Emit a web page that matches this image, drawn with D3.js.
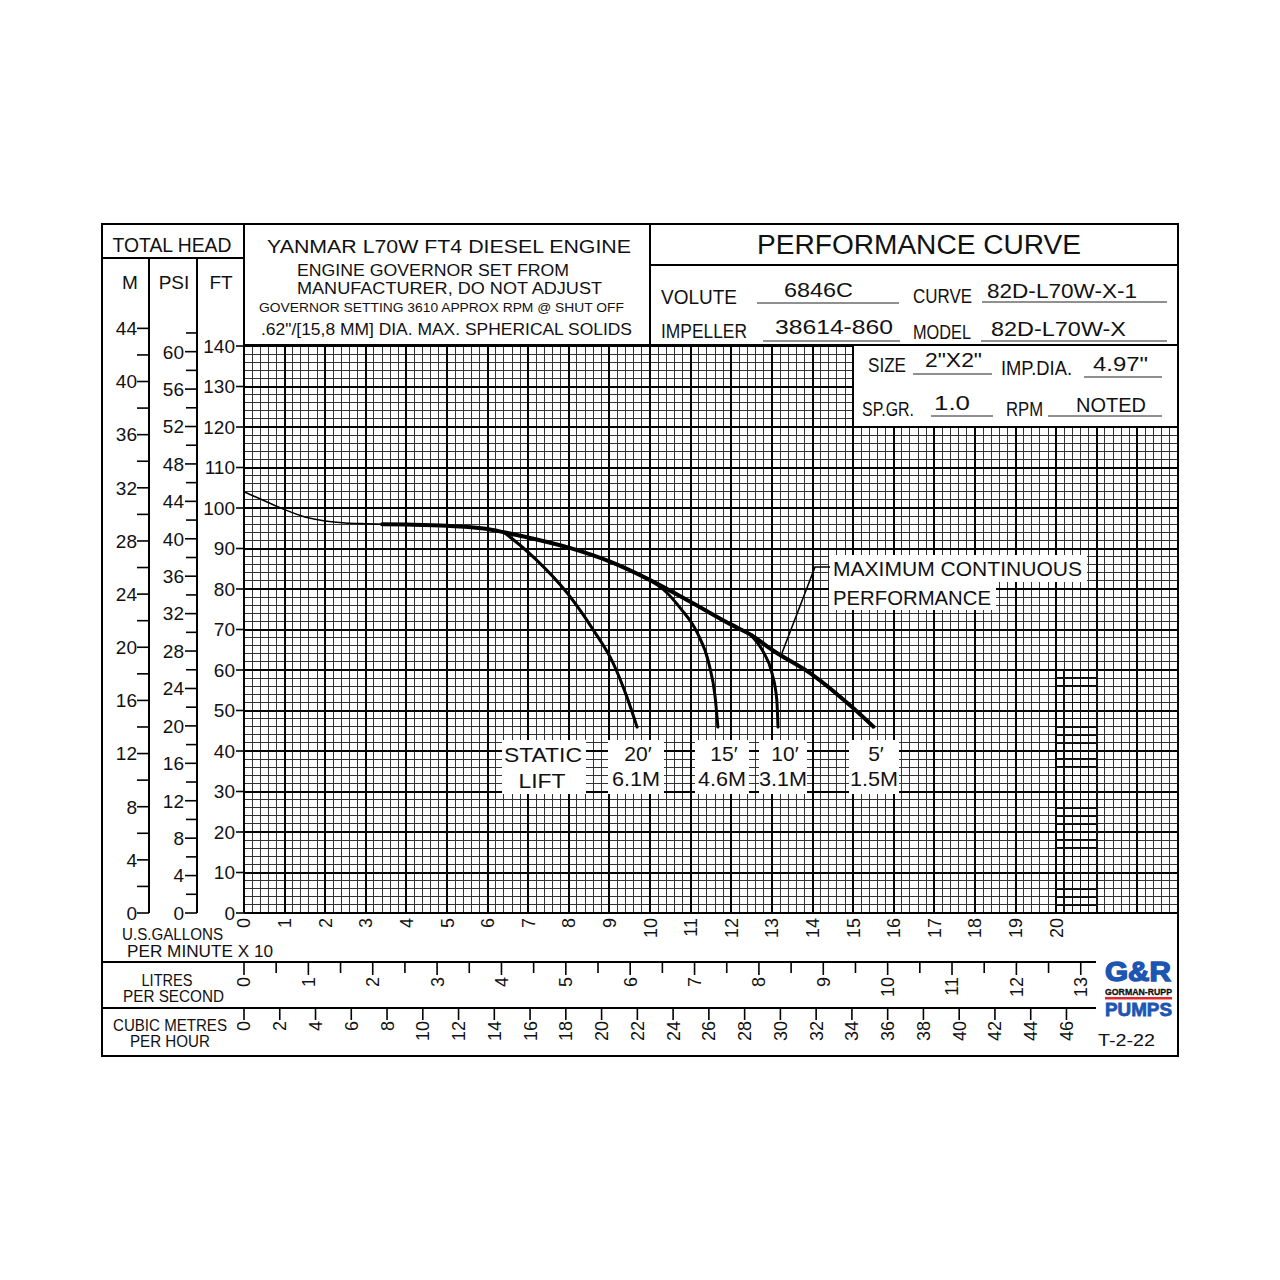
<!DOCTYPE html>
<html><head><meta charset="utf-8">
<script src="https://cdn.jsdelivr.net/npm/d3@7"></script>
<style>
body{margin:0;background:#fff}
svg{display:block}
text{font-family:"Liberation Sans",Arial,sans-serif;fill:#111}
</style>
</head><body>
<svg id="c" width="1280" height="1280"></svg>
<script>
// ---------------- DATA ----------------
// flow in U.S. GPM x 10, head in feet
const gpmTicks = d3.range(0, 21);            // 0..20
const ftTicks = d3.range(0, 141, 10);        // 0..140
const mTicks = d3.range(0, 45, 4);           // labelled metres
const mMinor = d3.range(2, 43, 4);
const psiTicks = d3.range(0, 61, 4);         // labelled psi
const psiMinor = d3.range(2, 63, 4);
const lpsTicks = d3.range(0, 14);            // litres / second
const lpsMinor = d3.range(0.5, 13, 1);
const m3hTicks = d3.range(0, 47, 2);         // cubic metres / hour

// head curve – thin part (below recommended range)
const headThin = [[0,104],[0.5,101.8],[1,99.6],[1.5,97.8],[2,96.8],[2.5,96.3],[3,96.1],[3.4,96]];
// maximum continuous performance (thick)
const maxCont = [[3.4,96],[4,95.9],[5,95.6],[6,94.8],[6.4,94],[7,92.7],[8,90.2],[9,86.8],[10,82.2],[11,76.8],[12,71.2],[12.5,68.6],[13,65],[14,58.8],[15,50.6],[15.5,46]];
// static lift branches
const lift20 = [[6.4,94],[6.8,90.8],[7.2,87.2],[7.96,79],[8.6,69.9],[9.09,61.7],[9.43,53.3],[9.68,45.9]];
const lift15 = [[10.0,82.2],[10.4,79.2],[10.75,75.2],[11.16,69.2],[11.45,61.5],[11.6,53.5],[11.67,45.9]];
const lift10 = [[12.46,68.8],[12.78,64.6],[13.0,59.3],[13.12,52.6],[13.15,45.9]];

const liftLabels = [
  {ft:"20\u2032", m:"6.1M"},
  {ft:"15\u2032", m:"4.6M"},
  {ft:"10\u2032", m:"3.1M"},
  {ft:"5\u2032",  m:"1.5M"}
];

// ---------------- SCALES ----------------
const svg = d3.select("#c");
const x = d3.scaleLinear().domain([0, 23]).range([244, 1178]);
const y = d3.scaleLinear().domain([0, 140]).range([913, 346]);
const yM = d3.scaleLinear().domain([0, 140/3.2808]).range([913, 346]);
const yP = d3.scaleLinear().domain([0, 140/2.31]).range([913, 346]);
const xL = d3.scaleLinear().domain([0, 23*10/15.850]).range([244, 1178]);
const xC = d3.scaleLinear().domain([0, 23*10/4.4029]).range([244, 1178]);

function txt(g, px, py, s, o) {
  o = o || {};
  const t = g.append("text").attr("x", px).attr("y", py).text(s)
    .attr("font-size", o.size || 18)
    .attr("text-anchor", o.anchor || "start");
  if (o.len) t.attr("textLength", o.len).attr("lengthAdjust", "spacingAndGlyphs");
  if (o.weight) t.attr("font-weight", o.weight);
  if (o.fill) t.style("fill", o.fill);
  if (o.stroke) t.attr("stroke", o.stroke).attr("stroke-width", o.sw || 0.6);
  if (o.dy) t.attr("dy", o.dy);
  if (o.rot) t.attr("transform", `rotate(${o.rot},${px},${py})`);
  return t;
}
function line(g, x1, y1, x2, y2, w, c) {
  return g.append("line").attr("x1", x1).attr("y1", y1).attr("x2", x2).attr("y2", y2)
    .attr("stroke", c || "#000").attr("stroke-width", w || 1.5);
}

// ---------------- GRID ----------------
const grid = svg.append("g").attr("shape-rendering", "crispEdges");
const minorX = d3.range(0, 23.001, 0.2).filter(v => Math.abs(v - Math.round(v)) > 1e-6);
const minorY = d3.range(0, 140.001, 2).filter(v => v % 10 !== 0);
minorX.forEach(v => line(grid, x(v), y(0), x(v), y(140), 1, "#333"));
minorY.forEach(v => line(grid, x(0), y(v), x(23), y(v), 1, "#333"));
// heavier sub-block 20..21, 0..60 ft
const hv = svg.append("g").attr("shape-rendering", "crispEdges");
d3.range(20.2, 21, 0.2).forEach(v => line(hv, x(v), y(0), x(v), y(60), 1.6, "#111"));
d3.range(2, 60, 2).filter(v => v % 10 !== 0).forEach(v => line(hv, x(20), y(v), x(21), y(v), 1.6, "#111"));
// major
d3.range(0, 24).forEach(v => line(grid, x(v), y(0), x(v), y(140), 2, "#000"));
ftTicks.forEach(v => line(grid, x(0) - 6, y(v), x(23), y(v), 2, "#000"));

// ---------------- CURVES ----------------
const lg = d3.line().x(d => x(d[0])).y(d => y(d[1])).curve(d3.curveMonotoneX);
const cg = svg.append("g").attr("fill", "none").attr("stroke", "#000").attr("stroke-linecap", "round");
cg.append("path").attr("d", lg(headThin)).attr("stroke-width", 1.6).attr("fill", "none");
cg.append("path").attr("d", lg(maxCont)).attr("stroke-width", 4).attr("fill", "none");
[lift20, lift15, lift10].forEach(d => cg.append("path").attr("d", lg(d)).attr("stroke-width", 3).attr("fill", "none"));

// ---------------- LABELS IN PLOT ----------------
const lab = svg.append("g");
lab.append("rect").attr("x", 502).attr("y", 740).attr("width", 84).attr("height", 54).attr("fill", "#fff");
txt(lab, 543, 762, "STATIC", {size: 21, anchor: "middle", len: 78});
txt(lab, 542, 788, "LIFT", {size: 21, anchor: "middle", len: 47});
const boxW = [56, 54, 48, 50];
const labX = [636, 722, 783, 874];
liftLabels.forEach((d, i) => {
  lab.append("rect").attr("x", labX[i] - boxW[i]/2).attr("y", 740).attr("width", boxW[i]).attr("height", 54).attr("fill", "#fff");
  txt(lab, labX[i] + 2, 761, d.ft, {size: 21, anchor: "middle"});
  txt(lab, labX[i], 786, d.m, {size: 21, anchor: "middle", len: 48});
});
lab.append("rect").attr("x", 829).attr("y", 555).attr("width", 258).attr("height", 27).attr("fill", "#fff");
lab.append("rect").attr("x", 829).attr("y", 582).attr("width", 167).attr("height", 28).attr("fill", "#fff");
txt(lab, 833, 576, "MAXIMUM  CONTINUOUS", {size: 21, len: 249});
txt(lab, 833, 605, "PERFORMANCE", {size: 21, len: 158});
lab.append("polyline").attr("points", "782,653 815,567 830,567").attr("fill", "none").attr("stroke", "#000").attr("stroke-width", 1.6);

// ---------------- FRAME & BLOCKS ----------------
const fr = svg.append("g").attr("shape-rendering", "crispEdges");
fr.append("rect").attr("x", 244).attr("y", 224).attr("width", 934).attr("height", 121).attr("fill", "#fff");
fr.append("rect").attr("x", 853).attr("y", 345).attr("width", 325).attr("height", 82).attr("fill", "#fff");
fr.append("rect").attr("x", 102).attr("y", 913).attr("width", 1076).attr("height", 143).attr("fill", "#fff");
fr.append("rect").attr("x", 102).attr("y", 224).attr("width", 142).attr("height", 689).attr("fill", "#fff");
line(fr, 244, 345, 1178, 345, 2);
line(fr, 853, 345, 853, 427, 2);
line(fr, 853, 427, 1178, 427, 2);
line(fr, 650, 224, 650, 345, 2);
line(fr, 650, 265, 1178, 265, 2);
line(fr, 102, 258, 244, 258, 2);
line(fr, 149, 258, 149, 913, 2);
line(fr, 197, 258, 197, 913, 2);
line(fr, 244, 224, 244, 913, 2);
line(fr, 244, 913, 1178, 913, 2);
line(fr, 102, 962, 1096, 962, 2);
line(fr, 102, 1008, 1096, 1008, 2);
fr.append("rect").attr("x", 102).attr("y", 224).attr("width", 1076).attr("height", 832)
  .attr("fill", "none").attr("stroke", "#000").attr("stroke-width", 2);

// ---------------- LEFT AXES ----------------
const ax = svg.append("g");
txt(ax, 172, 252, "TOTAL HEAD", {size: 20, anchor: "middle", len: 119});
txt(ax, 130, 289, "M", {size: 19, anchor: "middle"});
txt(ax, 174, 289, "PSI", {size: 19, anchor: "middle"});
txt(ax, 221, 289, "FT", {size: 19, anchor: "middle"});
mTicks.forEach(v => { line(ax, 137, yM(v), 149, yM(v), 1.6); txt(ax, 137, yM(v), String(v), {size: 19, anchor: "end", dy: "0.36em"}); });
mMinor.forEach(v => line(ax, 137, yM(v), 149, yM(v), 1.6));
psiTicks.forEach(v => { line(ax, 185, yP(v), 197, yP(v), 1.6); txt(ax, 184, yP(v), String(v), {size: 19, anchor: "end", dy: "0.36em"}); });
psiMinor.forEach(v => line(ax, 186, yP(v), 197, yP(v), 1.6));
ftTicks.forEach(v => { line(ax, 236, y(v), 244, y(v), 1.6); txt(ax, 235, y(v), String(v), {size: 19, anchor: "end", dy: "0.36em"}); });

// ---------------- BOTTOM AXES ----------------
const bx = svg.append("g");
gpmTicks.forEach(v => txt(bx, x(v), 918, String(v), {size: 18, anchor: "end", dy: "0.36em", rot: -90}));
txt(bx, 122, 940, "U.S.GALLONS", {size: 16, len: 101});
txt(bx, 127, 957, "PER  MINUTE  X 10", {size: 16, len: 146});
lpsTicks.forEach(v => { line(bx, xL(v), 962, xL(v), 975, 1.6); txt(bx, xL(v), 977, String(v), {size: 18, anchor: "end", dy: "0.36em", rot: -90}); });
lpsMinor.forEach(v => line(bx, xL(v), 962, xL(v), 973, 1.6));
txt(bx, 167, 986, "LITRES", {size: 16, anchor: "middle", len: 51});
txt(bx, 123, 1002, "PER  SECOND", {size: 16, len: 101});
m3hTicks.forEach(v => { line(bx, xC(v), 1008, xC(v), 1020, 1.6); txt(bx, xC(v), 1021, String(v), {size: 18, anchor: "end", dy: "0.36em", rot: -90}); });
txt(bx, 113, 1031, "CUBIC  METRES", {size: 16, len: 114});
txt(bx, 130, 1047, "PER  HOUR", {size: 16, len: 80});
txt(bx, 1098, 1046, "T-2-22", {size: 17, len: 57});

// logo
const lo = svg.append("g");
txt(lo, 1105, 981, "G&R", {size: 27, weight: "bold", len: 66, fill: "#1d55b3", stroke: "#1d55b3", sw: 1.4});
txt(lo, 1105, 995, "GORMAN-RUPP", {size: 8.5, weight: "bold", len: 67, fill: "#111", stroke: "#111", sw: 0.3});
lo.append("rect").attr("x", 1105).attr("y", 997).attr("width", 67).attr("height", 2.5).attr("fill", "#e3262b");
txt(lo, 1105, 1016, "PUMPS", {size: 19, weight: "bold", len: 67, fill: "#1d55b3", stroke: "#1d55b3", sw: 0.8});

// ---------------- TITLE BLOCKS ----------------
const tb = svg.append("g");
txt(tb, 267, 253, "YANMAR L70W FT4 DIESEL ENGINE", {size: 18, len: 364});
txt(tb, 297, 276, "ENGINE GOVERNOR SET FROM", {size: 16, len: 272});
txt(tb, 297, 294, "MANUFACTURER, DO NOT ADJUST", {size: 16, len: 305});
txt(tb, 259, 312, "GOVERNOR SETTING 3610 APPROX RPM @ SHUT OFF", {size: 13, len: 365});
txt(tb, 261, 335, ".62\"/[15,8 MM] DIA. MAX. SPHERICAL SOLIDS", {size: 17, len: 371});

txt(tb, 757, 254, "PERFORMANCE  CURVE", {size: 27, len: 324});
const fields = [
  {lab:"VOLUTE",   lx:661, ly:304, ll:76,  val:"6846C",        vx:784, vy:297, vl:69,  u:[757,899,303]},
  {lab:"CURVE",    lx:913, ly:303, ll:59,  val:"82D-L70W-X-1", vx:987, vy:298, vl:150, u:[982,1167,302]},
  {lab:"IMPELLER", lx:661, ly:338, ll:86,  val:"38614-860",    vx:775, vy:334, vl:118, u:[763,900,341]},
  {lab:"MODEL",    lx:913, ly:339, ll:58,  val:"82D-L70W-X",   vx:991, vy:336, vl:135, u:[981,1167,341]},
  {lab:"SIZE",     lx:868, ly:372, ll:38,  val:"2\"X2\"",      vx:925, vy:367, vl:57,  u:[913,992,374]},
  {lab:"IMP.DIA.", lx:1001,ly:375, ll:71,  val:"4.97\"",       vx:1093,vy:371, vl:55,  u:[1084,1162,377]},
  {lab:"SP.GR.",   lx:862, ly:416, ll:52,  val:"1.0",          vx:934, vy:410, vl:36,  u:[931,993,416]},
  {lab:"RPM",      lx:1006,ly:416, ll:37,  val:"NOTED",        vx:1076,vy:412, vl:70,  u:[1048,1162,416]}
];
fields.forEach(f => {
  txt(tb, f.lx, f.ly, f.lab, {size: 20, len: f.ll});
  txt(tb, f.vx, f.vy, f.val, {size: 21, len: f.vl});
  line(tb, f.u[0], f.u[2], f.u[1], f.u[2], 1.2, "#222");
});
</script>
</body></html>
